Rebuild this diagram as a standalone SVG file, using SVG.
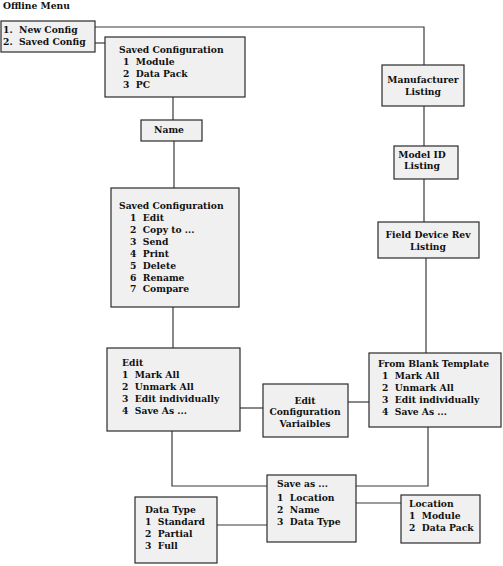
<svg xmlns="http://www.w3.org/2000/svg" width="503" height="566" viewBox="0 0 503 566" xml:space="preserve">
<style>
.bx{fill:#f0f0f0;stroke:#2a2a2a;stroke-width:1.2}
.ln{fill:none;stroke:#3a3a3a;stroke-width:1.2}
text{font-family:"DejaVu Serif","Liberation Serif",serif;font-weight:bold;font-size:9.2px;fill:#111;white-space:pre}
.c{text-anchor:middle}
</style>
<rect width="503" height="566" fill="#fff"/>
<g id="connectors">
<polyline class="ln" points="95,27 424,27 424,65"/>
<line class="ln" x1="95" y1="43" x2="105" y2="43"/>
<line class="ln" x1="173" y1="97" x2="173" y2="120"/>
<line class="ln" x1="174" y1="141" x2="174" y2="188"/>
<line class="ln" x1="173" y1="307" x2="173" y2="348"/>
<line class="ln" x1="424" y1="106" x2="424" y2="146"/>
<line class="ln" x1="424" y1="179" x2="424" y2="222"/>
<line class="ln" x1="426" y1="258" x2="426" y2="353"/>
<line class="ln" x1="240" y1="408" x2="263" y2="408"/>
<line class="ln" x1="348" y1="402" x2="369" y2="402"/>
<polyline class="ln" points="172,431 172,486 267,486"/>
<polyline class="ln" points="428,427 428,486 356,486"/>
<line class="ln" x1="356" y1="503" x2="401" y2="503"/>
<line class="ln" x1="217" y1="525" x2="267" y2="525"/>
</g>
<text x="3" y="9">Offline Menu</text>
<g id="offline-menu">
<rect class="bx" x="1" y="21" width="94" height="31"/>
<text x="3" y="33">1.  New Config</text>
<text x="3" y="45">2.  Saved Config</text>
</g>
<g id="saved-config-1">
<rect class="bx" x="105" y="37" width="140" height="60"/>
<text x="119" y="53">Saved Configuration</text>
<text x="123" y="65">1  Module</text>
<text x="123" y="77">2  Data Pack</text>
<text x="123" y="88">3  PC</text>
</g>
<g id="name">
<rect class="bx" x="141" y="120" width="61" height="21"/>
<text class="c" x="169" y="133">Name</text>
</g>
<g id="saved-config-2">
<rect class="bx" x="111" y="188" width="128" height="119"/>
<text x="119" y="209">Saved Configuration</text>
<text x="130" y="221">1  Edit</text>
<text x="130" y="233">2  Copy to ...</text>
<text x="130" y="245">3  Send</text>
<text x="130" y="257">4  Print</text>
<text x="130" y="269">5  Delete</text>
<text x="130" y="281">6  Rename</text>
<text x="130" y="292">7  Compare</text>
</g>
<g id="manufacturer">
<rect class="bx" x="382" y="65" width="82" height="41"/>
<text class="c" x="423" y="83">Manufacturer</text>
<text class="c" x="423" y="95">Listing</text>
</g>
<g id="model-id">
<rect class="bx" x="394" y="146" width="64" height="33"/>
<text class="c" x="422" y="158">Model ID</text>
<text class="c" x="422" y="169">Listing</text>
</g>
<g id="field-device">
<rect class="bx" x="378" y="222" width="101" height="36"/>
<text class="c" x="428" y="238">Field Device Rev</text>
<text class="c" x="428" y="250">Listing</text>
</g>
<g id="edit">
<rect class="bx" x="107" y="348" width="133" height="83"/>
<text x="122" y="366">Edit</text>
<text x="122" y="378">1  Mark All</text>
<text x="122" y="390">2  Unmark All</text>
<text x="122" y="402">3  Edit individually</text>
<text x="122" y="414">4  Save As ...</text>
</g>
<g id="edit-config-vars">
<rect class="bx" x="263" y="384" width="85" height="53"/>
<text class="c" x="305" y="404">Edit</text>
<text class="c" x="305" y="415">Configuration</text>
<text class="c" x="305" y="427">Variaibles</text>
</g>
<g id="from-blank">
<rect class="bx" x="369" y="353" width="132" height="74"/>
<text x="378" y="367">From Blank Template</text>
<text x="382" y="379">1  Mark All</text>
<text x="382" y="391">2  Unmark All</text>
<text x="382" y="403">3  Edit individually</text>
<text x="382" y="415">4  Save As ...</text>
</g>
<g id="save-as">
<rect class="bx" x="267" y="475" width="89" height="67"/>
<text x="277" y="487">Save as ...</text>
<text x="277" y="501">1  Location</text>
<text x="277" y="513">2  Name</text>
<text x="277" y="525">3  Data Type</text>
</g>
<g id="location">
<rect class="bx" x="401" y="495" width="79" height="48"/>
<text x="409" y="507">Location</text>
<text x="409" y="519">1  Module</text>
<text x="409" y="531">2  Data Pack</text>
</g>
<g id="data-type">
<rect class="bx" x="135" y="497" width="82" height="66"/>
<text x="145" y="513">Data Type</text>
<text x="145" y="525">1  Standard</text>
<text x="145" y="537">2  Partial</text>
<text x="145" y="549">3  Full</text>
</g>
</svg>
